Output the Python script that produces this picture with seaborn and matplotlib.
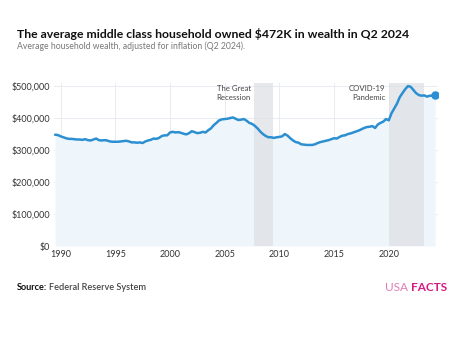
import numpy as np
import pandas as pd
import matplotlib
matplotlib.use("Agg")
import matplotlib.pyplot as plt
import seaborn as sns

# Quarterly average middle-class household wealth (thousands USD, Q2 2024 dollars)
start_year = 1989.5
wealth_k = [
    348, 347,                      # 1989 Q3-Q4
    343, 340, 337, 335,            # 1990
    335, 334, 333, 333,            # 1991
    332, 334, 331, 330,            # 1992
    333, 336, 331, 330,            # 1993
    331, 330, 327, 326,            # 1994
    326, 326, 327, 328,            # 1995
    329, 327, 324, 324,            # 1996
    323, 324, 322, 327,            # 1997
    330, 332, 336, 335,            # 1998
    338, 344, 346, 346,            # 1999
    355, 357, 355, 356,            # 2000
    354, 351, 349, 353,            # 2001
    359, 356, 353, 354,            # 2002
    357, 355, 362, 368,            # 2003
    378, 385, 393, 396,            # 2004
    397, 398, 400, 402,            # 2005
    398, 394, 395, 397,            # 2006
    392, 385, 382, 376,            # 2007
    368, 358, 350, 344,            # 2008
    340, 340, 338, 340,            # 2009
    341, 343, 350, 345,            # 2010
    337, 330, 325, 323,            # 2011
    318, 317, 316, 316,            # 2012
    316, 318, 322, 325,            # 2013
    327, 329, 331, 334,            # 2014
    337, 336, 341, 345,            # 2015
    346, 350, 352, 355,            # 2016
    358, 361, 365, 369,            # 2017
    372, 373, 375, 369,            # 2018
    380, 385, 389, 397,            # 2019
    393, 415, 430, 445,            # 2020
    465, 478, 490, 500,            # 2021
    498, 488, 478, 472,            # 2022
    470, 471, 467, 470,            # 2023
    470, 472,                      # 2024 Q1-Q2
]
years = [start_year + 0.25 * i for i in range(len(wealth_k))]

recessions = [("The Great\nRecession", 2007.7, 2009.45),
              ("COVID-19\nPandemic", 2020.0, 2023.25)]
y_ticks = [0, 100000, 200000, 300000, 400000, 500000]
y_labels = ["$0", "$100,000", "$200,000", "$300,000", "$400,000", "$500,000"]
x_ticks = [1990, 1995, 2000, 2005, 2010, 2015, 2020]

df = pd.DataFrame({"year": years, "wealth": [v * 1000 for v in wealth_k]})

sns.set_theme(style="white")
plt.rcParams["font.family"] = ["Lato", "DejaVu Sans"]

fig = plt.figure(figsize=(4.74, 3.37), dpi=100)
ax = fig.add_axes([0.114, 0.270, 0.810, 0.484])

line_color = "#2b8fd1"
ax.fill_between(df["year"], 0, df["wealth"], color="#eef6fc", zorder=1, linewidth=0)
for label, x0, x1 in recessions:
    ax.axvspan(x0, x1, color="#dfe1e5", alpha=0.75, zorder=2, linewidth=0)
sns.lineplot(data=df, x="year", y="wealth", ax=ax, color=line_color,
             linewidth=1.8, zorder=4)
ax.scatter([df["year"].iloc[-1]], [df["wealth"].iloc[-1]], s=26,
           color=line_color, zorder=5)

ax.set_xlim(1989.4, 2024.5)
ax.set_ylim(0, 510000)
ax.set_yticks(y_ticks)
ax.set_yticklabels(y_labels)
ax.set_xticks(x_ticks)
ax.set_xticklabels([str(x) for x in x_ticks])
ax.grid(True, color="#e8ebef", linewidth=0.7, zorder=0)
ax.set_axisbelow(True)
for s in ax.spines.values():
    s.set_visible(False)
ax.tick_params(axis="both", length=0, labelsize=6.5, labelcolor="#333333", pad=3)
ax.set_xlabel("")
ax.set_ylabel("")

for label, x0, x1 in recessions:
    ax.text(x0 - 0.3, 505000, label, ha="right", va="top", fontsize=5.6,
            color="#444444", linespacing=1.35)

fig.text(0.036, 0.900, "The average middle class household owned $472K in wealth in Q2 2024",
         fontsize=8.8, fontweight="bold", color="#111111", ha="left", va="center")
fig.text(0.036, 0.862, "Average household wealth, adjusted for inflation (Q2 2024).",
         fontsize=6.2, color="#777777", ha="left", va="center")

fig.text(0.036, 0.146, "Source:", fontsize=6.6, fontweight="bold", color="#111111",
         ha="left", va="center")
fig.text(0.103, 0.146, "Federal Reserve System", fontsize=6.6, fontweight="semibold",
         color="#444444", ha="left", va="center")
fig.text(0.813, 0.146, "USA", fontsize=8.5, fontweight="normal", color="#e27bb3",
         ha="left", va="center")
fig.text(0.868, 0.146, "FACTS", fontsize=8.5, fontweight="bold", color="#d81b84",
         ha="left", va="center")

fig.savefig("out.png", dpi=100)
